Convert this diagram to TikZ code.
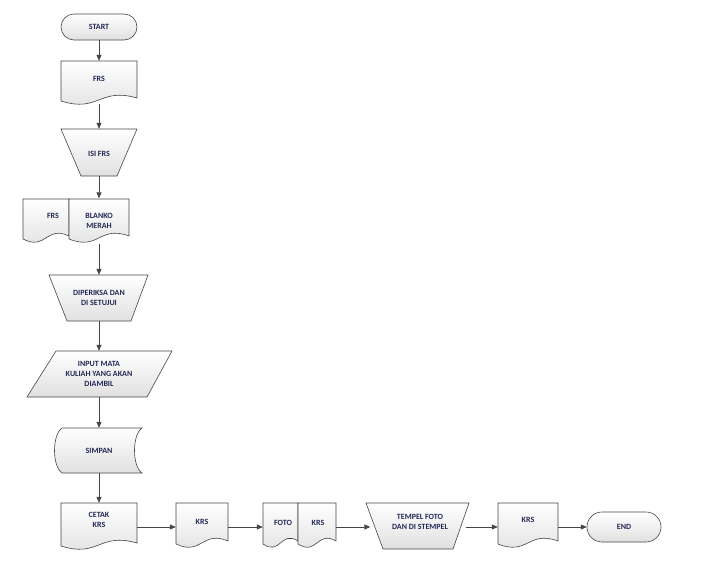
\documentclass[tikz,border=0pt]{standalone}
\usepackage{fontspec}
\setmainfont{Carlito}
\usetikzlibrary{arrows.meta}
\definecolor{txt}{RGB}{35,40,85}
\definecolor{ln}{RGB}{70,70,70}
\tikzset{
  shp/.style={draw=ln, line width=0.6pt, top color=white, bottom color=black!12},
  lbl/.style={font=\bfseries\fontsize{8}{10}\selectfont, text=txt, align=center, inner sep=0pt},
  box/.style={draw=none, minimum width=#1, inner sep=0pt},
  arr/.style={draw=ln, line width=0.7pt, -{Triangle[length=6pt,width=5pt]}}
}
\newcommand\docshape[4]{% x0 y0 x1 yb
  \path[shp] (#1,#2) -- (#3,#2) -- (#3,#4-3) .. controls ({(#1+#3)/2},#4-14) and ({(#1+#3)/2},#4+12) .. (#1,#4) -- cycle;}
\begin{document}
\begin{tikzpicture}[x=1pt,y=-1pt]
\useasboundingbox (0,0) rectangle (701,573);
% START
\path[shp, rounded corners=13pt] (61,14) rectangle (137,40);
\node[lbl] at (99,27) {START};
\node[box=76pt, minimum height=26pt] (start) at (99,27) {};
% FRS
\docshape{61}{61}{137}{101}
\node[lbl] at (99,79) {FRS};
\node[box=76pt, minimum height=43pt] (frs) at (99,82.5) {};
% ISI FRS
\path[shp] (61,129) -- (137,129) -- (117,176) -- (81,176) -- cycle;
\node[lbl] at (99,154) {ISI FRS};
\node[box=76pt, minimum height=47pt] (isib) at (99,152.5) {};
% Blanko double doc
\docshape{23}{199}{69}{239}
\docshape{69}{199}{129}{239}
\node[lbl] at (53,216) {FRS};
\node[lbl] at (99,221) {BLANKO\\MERAH};
\node[box=60pt, minimum height=45pt] (blanko) at (99,221) {};
% Diperiksa
\path[shp] (49,275) -- (148,275) -- (131,321) -- (67,321) -- cycle;
\node[lbl] at (99,298) {DIPERIKSA DAN\\DI SETUJUI};
\node[box=80pt, minimum height=46pt] (dip) at (99,298) {};
% Input
\path[shp] (56,351) -- (172,351) -- (147,397) -- (27,397) -- cycle;
\node[lbl] at (99,374) {INPUT MATA\\KULIAH YANG AKAN\\DIAMBIL};
\node[box=80pt, minimum height=46pt] (inp) at (99,374) {};
% Simpan
\path[shp] (62,428) -- (142,428) .. controls (132,435) and (132,466) .. (142,473) -- (62,473) .. controls (52,466) and (52,435) .. (62,428) -- cycle;
\node[lbl] at (99,451) {SIMPAN};
\node[box=80pt, minimum height=45pt] (simpan) at (99,450.5) {};
% Cetak KRS
\docshape{61}{503}{137}{546}
\node[lbl] at (99,520) {CETAK\\KRS};
\node[box=76pt, minimum height=48pt] (cetak) at (99,527) {};
% KRS 1
\docshape{176}{503}{228}{544}
\node[lbl] at (202,522) {KRS};
\node[box=52pt, minimum height=48pt] (krs1) at (202,527) {};
% FOTO | KRS
\docshape{263}{503}{298}{544}
\docshape{298}{503}{336}{544}
\node[lbl] at (283,523) {FOTO};
\node[lbl] at (318,523) {KRS};
\node[box=73pt, minimum height=48pt] (foto) at (299.5,527) {};
% Tempel
\path[shp] (366,503) -- (469,503) -- (453,549) -- (383,549) -- cycle;
\node[lbl] at (420,522) {TEMPEL FOTO\\DAN DI STEMPEL};
\node[box=95pt, minimum height=48pt] (tempel) at (418,527) {};
% KRS 2
\docshape{498}{503}{558}{544}
\node[lbl] at (528,520) {KRS};
\node[box=60pt, minimum height=48pt] (krs2) at (528,527) {};
% END
\path[shp, rounded corners=15pt] (587,512) rectangle (661,542);
\node[lbl] at (624,527) {END};
\node[box=74pt, minimum height=30pt] (end) at (624,527) {};
% connectors
\draw[arr] (start.south) -- (frs.north);
\draw[arr] (frs.south) -- (isib.north);
\draw[arr] (isib.south) -- (blanko.north);
\draw[arr] (blanko.south) -- (dip.north);
\draw[arr] (dip.south) -- (inp.north);
\draw[arr] (inp.south) -- (simpan.north);
\draw[arr] (simpan.south) -- (cetak.north);
\draw[arr] (cetak.east) -- (krs1.west);
\draw[arr] (krs1.east) -- (foto.west);
\draw[arr] (foto.east) -- (tempel.west);
\draw[arr] (tempel.east) -- (krs2.west);
\draw[arr] (krs2.east) -- (end.west);
\end{tikzpicture}
\end{document}
